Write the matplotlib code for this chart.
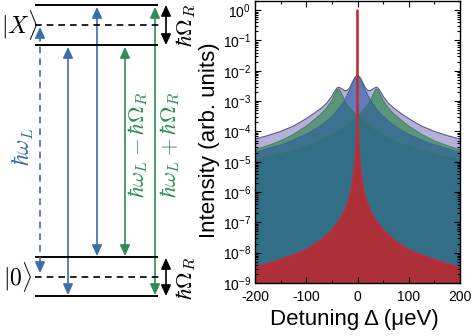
import numpy as np
import matplotlib
matplotlib.use('Agg')
import matplotlib.pyplot as plt
from matplotlib.patches import FancyArrowPatch
from matplotlib.ticker import MultipleLocator, LogLocator, NullFormatter

plt.rcParams['font.family'] = ['Liberation Sans', 'DejaVu Sans']
plt.rcParams['mathtext.fontset'] = 'cm'

# spectra: detuning in ueV, intensity in arb. units
detuning = [-200, -175, -150, -125, -100, -85, -70, -60, -50, -45, -40, -37.5, -35, -30, -25,
            -20, -15, -10, -5, 0, 5, 10, 15, 20, 25, 30, 35, 37.5, 40, 45, 50, 60, 70, 85,
            100, 125, 150, 175, 200]
total = [5.6e-5, 7.3e-5, 1.0e-4, 1.5e-4, 2.65e-4, 3.9e-4, 6.0e-4, 8.6e-4, 1.45e-3, 2.05e-3,
         2.7e-3, 2.85e-3, 2.8e-3, 2.5e-3, 2.2e-3, 2.25e-3, 2.8e-3, 4.2e-3, 6.0e-3, 7.5e-3,
         6.0e-3, 4.2e-3, 2.8e-3, 2.25e-3, 2.2e-3, 2.5e-3, 2.8e-3, 2.85e-3, 2.7e-3, 2.05e-3,
         1.45e-3, 8.6e-4, 6.0e-4, 3.9e-4, 2.65e-4, 1.5e-4, 1.0e-4, 7.3e-5, 5.6e-5]
center = [2.05e-5, 2.7e-5, 3.6e-5, 5.2e-5, 8.1e-5, 1.12e-4, 1.64e-4, 2.2e-4, 3.15e-4, 3.85e-4,
          4.8e-4, 5.4e-4, 6.1e-4, 8.1e-4, 1.1e-3, 1.6e-3, 2.4e-3, 3.8e-3, 5.6e-3, 7.1e-3,
          5.6e-3, 3.8e-3, 2.4e-3, 1.6e-3, 1.1e-3, 8.1e-4, 6.1e-4, 5.4e-4, 4.8e-4, 3.85e-4,
          3.15e-4, 2.2e-4, 1.64e-4, 1.12e-4, 8.1e-5, 5.2e-5, 3.6e-5, 2.7e-5, 2.05e-5]
lower_sb = [2.5e-5, 3.4e-5, 4.9e-5, 8.0e-5, 1.5e-4, 2.4e-4, 3.9e-4, 6.0e-4, 1.05e-3, 1.6e-3,
            2.35e-3, 2.5e-3, 2.35e-3, 1.6e-3, 1.05e-3, 7.8e-4, 6.0e-4, 4.8e-4, 3.9e-4, 3.3e-4,
            2.8e-4, 2.4e-4, 2.05e-4, 1.75e-4, 1.5e-4, 1.3e-4, 1.15e-4, 1.08e-4, 1.02e-4, 9.0e-5,
            8.0e-5, 6.5e-5, 5.3e-5, 4.2e-5, 3.4e-5, 2.5e-5, 1.9e-5, 1.5e-5, 1.2e-5]
upper_sb = [1.2e-5, 1.5e-5, 1.9e-5, 2.5e-5, 3.4e-5, 4.2e-5, 5.3e-5, 6.5e-5, 8.0e-5, 9.0e-5,
            1.02e-4, 1.08e-4, 1.15e-4, 1.3e-4, 1.5e-4, 1.75e-4, 2.05e-4, 2.4e-4, 2.8e-4, 3.3e-4,
            3.9e-4, 4.8e-4, 6.0e-4, 7.8e-4, 1.05e-3, 1.6e-3, 2.35e-3, 2.5e-3, 2.35e-3, 1.6e-3,
            1.05e-3, 6.0e-4, 3.9e-4, 2.4e-4, 1.5e-4, 8.0e-5, 4.9e-5, 3.4e-5, 2.5e-5]
red_detuning = [-200, -150, -100, -70, -50, -35, -25, -18, -12, -8, -5, -3, -2, -1, -0.5, -0.2,
                -0.05, 0, 0.05, 0.2, 0.5, 1, 2, 3, 5, 8, 12, 18, 25, 35, 50, 70, 100, 150, 200]
elastic = [3.2e-9, 5.8e-9, 1.2e-8, 2.6e-8, 5.5e-8, 1.15e-7, 2.3e-7, 4.6e-7, 1.1e-6, 2.8e-6,
           7e-6, 1.8e-5, 3.8e-5, 1.4e-4, 5e-4, 3e-3, 5e-2, 1.0, 5e-2, 3e-3, 5e-4, 1.4e-4,
           3.8e-5, 1.8e-5, 7e-6, 2.8e-6, 1.1e-6, 4.6e-7, 2.3e-7, 1.15e-7, 5.5e-8, 2.6e-8,
           1.2e-8, 5.8e-9, 3.2e-9]

# level scheme (left panel, pixel-like units)
level_x = [35, 158]
levels_solid = [5, 45, 257, 296]
levels_dashed = [25, 277]
blue = '#3a6ea8'
green = '#2f8c58'
arrows = [(40, 27, 273, blue, '--'), (68, 47, 295, blue, '-'), (97, 7, 256, blue, '-'),
          (125, 47, 256, green, '-'), (155, 7, 295, green, '-'),
          (166, 5, 45, 'black', '-'), (166, 258, 296, 'black', '-')]

fig = plt.figure(figsize=(4.74, 3.36), dpi=100)

# ---- level diagram
ax0 = fig.add_axes([0, 0, 0.5, 1])
ax0.set_xlim(0, 237)
ax0.set_ylim(336, 0)
ax0.axis('off')
for y in levels_solid:
    ax0.plot(level_x, [y, y], color='black', lw=1.4, solid_capstyle='butt')
for y in levels_dashed:
    ax0.plot([35, 160], [y, y], color='black', lw=1.2, ls=(0, (4, 3)))

hs = 'head_length=0.65,head_width=0.3'
for x, y0, y1, c, ls in arrows:
    if ls == '-':
        ax0.add_patch(FancyArrowPatch((x, y1), (x, y0), arrowstyle='<|-|>,' + hs,
                                      mutation_scale=10, color=c, lw=1.2,
                                      shrinkA=0, shrinkB=0))
    else:
        ax0.plot([x, x], [y0 + 8, y1 - 8], color=c, lw=1.2, ls=(0, (4, 3)))
        ax0.add_patch(FancyArrowPatch((x, y0 + 10), (x, y0), arrowstyle='-|>,' + hs,
                                      mutation_scale=10, color=c, lw=1.2, shrinkA=0, shrinkB=0))
        ax0.add_patch(FancyArrowPatch((x, y1 - 10), (x, y1), arrowstyle='-|>,' + hs,
                                      mutation_scale=10, color=c, lw=1.2, shrinkA=0, shrinkB=0))

ax0.text(1, 25, r'$|X\rangle$', fontsize=17, ha='left', va='center')
ax0.text(3, 277, r'$|0\rangle$', fontsize=17, ha='left', va='center')
ax0.text(23, 146, r'$\hbar\omega_L$', color=blue, fontsize=17, rotation=90,
         ha='center', va='center')
ax0.text(138, 144, r'$\hbar\omega_L-\hbar\Omega_R$', color=green, fontsize=16.5,
         rotation=90, ha='center', va='center')
ax0.text(170, 144, r'$\hbar\omega_L+\hbar\Omega_R$', color=green, fontsize=16.5,
         rotation=90, ha='center', va='center')
ax0.text(186, 25, r'$\hbar\Omega_R$', fontsize=16.5, rotation=90, ha='center', va='center')
ax0.text(186, 278, r'$\hbar\Omega_R$', fontsize=16.5, rotation=90, ha='center', va='center')

# ---- spectrum
ax = fig.add_axes([255 / 474, 1 - 283 / 336, 205 / 474, 282 / 336])
ax.set_yscale('log')
floor = 1e-10
ax.fill_between(detuning, floor, total, facecolor='#b4b0d8', edgecolor='none')
ax.fill_between(detuning, floor, lower_sb, facecolor='#3c8c5a', alpha=0.75, edgecolor='none')
ax.fill_between(detuning, floor, upper_sb, facecolor='#3c8c5a', alpha=0.75, edgecolor='none')
ax.fill_between(detuning, floor, center, facecolor='#285aa0', alpha=0.6, edgecolor='none')
ax.plot(detuning, total, color='#5c5a8c', lw=0.8)
ax.plot(detuning, lower_sb, color='#3d7a5c', lw=0.6)
ax.plot(detuning, upper_sb, color='#3d7a5c', lw=0.6)
ax.plot(detuning, center, color='#3e6190', lw=0.6)
ax.fill_between(red_detuning, floor, elastic, facecolor='#ad2f37', edgecolor='none')
ax.plot(red_detuning, elastic, color='#c42a36', lw=1.3)

ax.set_xlim(-200, 200)
ax.set_ylim(1e-9, 2)
ax.xaxis.set_major_locator(MultipleLocator(100))
ax.xaxis.set_minor_locator(MultipleLocator(50))
ax.yaxis.set_major_locator(LogLocator(base=10, numticks=20))
ax.yaxis.set_minor_locator(LogLocator(base=10, subs=np.arange(2, 10), numticks=20))
ax.yaxis.set_minor_formatter(NullFormatter())
exps = list(range(-9, 1))
ax.set_yticks([10.0 ** e for e in exps])
ax.set_yticklabels([r'$\mathregular{10^{%d}}$' % e for e in exps])
ax.set_xticks([-200, -100, 0, 100, 200])
ax.set_xticklabels(['-200', '-100', '0', '100', '200'])
ax.tick_params(which='both', direction='in', top=True, right=True, labelsize=10,
               width=0.8)
ax.tick_params(which='major', length=4)
ax.tick_params(which='minor', length=2.5)
ax.tick_params(axis='x', pad=5)
ax.tick_params(axis='y', pad=3)
for s in ax.spines.values():
    s.set_linewidth(1.0)

fig.text(209 / 474, 1 - 140 / 336, 'Intensity (arb. units)', rotation=90,
         ha='center', va='center', fontsize=16)
fig.text(354 / 474, 1 - 320 / 336, 'Detuning \u0394 (\u03bceV)', ha='center',
         va='center', fontsize=16)

fig.savefig('out.png', dpi=100)
